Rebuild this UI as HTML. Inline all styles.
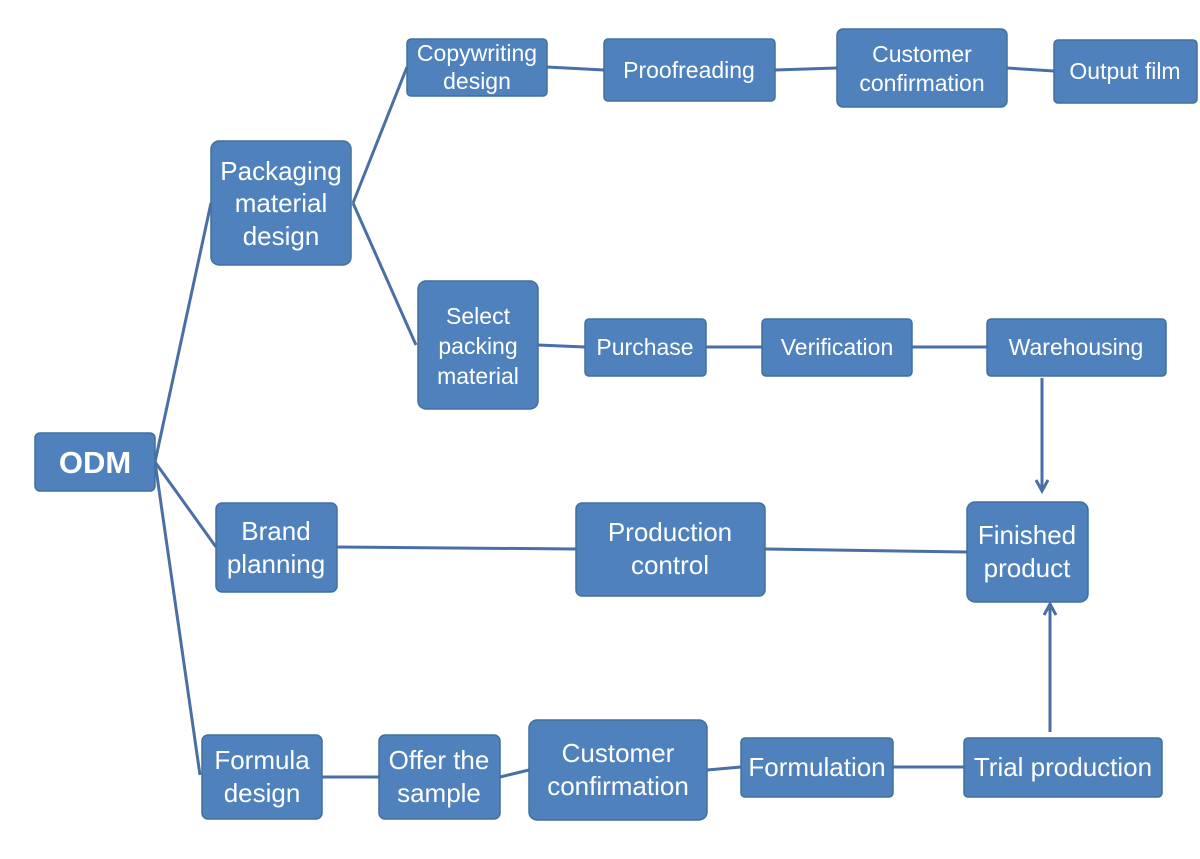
<!DOCTYPE html>
<html><head><meta charset="utf-8"><style>
html,body{margin:0;padding:0;background:#fff;}
svg{display:block;}
text{font-family:"Liberation Sans",sans-serif;fill:#fff;text-anchor:middle;}
rect{fill:#4F81BD;stroke:#41709f;stroke-width:1.5;}
line,polyline{stroke:#4a6fa5;stroke-width:3;fill:none;}
</style></head><body>
<svg width="1200" height="859" viewBox="0 0 1200 859" xmlns="http://www.w3.org/2000/svg">
<defs><marker id="ah" markerWidth="16" markerHeight="16" refX="12" refY="7" orient="auto" markerUnits="userSpaceOnUse"><polyline points="1,1 12,7 1,13" style="stroke:#4a6fa5;stroke-width:3;fill:none"/></marker></defs>
<line x1="155" y1="462" x2="211" y2="203"/>
<line x1="155" y1="462" x2="216" y2="547"/>
<line x1="155" y1="462" x2="200" y2="775"/>
<line x1="353" y1="203" x2="407" y2="67"/>
<line x1="353" y1="203" x2="416" y2="345"/>
<line x1="547" y1="67" x2="604" y2="70"/>
<line x1="775" y1="70" x2="837" y2="68"/>
<line x1="1007" y1="68" x2="1054" y2="71"/>
<line x1="538" y1="345" x2="585" y2="347"/>
<line x1="706" y1="347" x2="762" y2="347"/>
<line x1="912" y1="347" x2="987" y2="347"/>
<line x1="337" y1="547" x2="576" y2="549"/>
<line x1="765" y1="549" x2="967" y2="552"/>
<line x1="322" y1="777" x2="379" y2="777"/>
<line x1="500" y1="777" x2="529" y2="770"/>
<line x1="707" y1="770" x2="741" y2="767"/>
<line x1="893" y1="767" x2="964" y2="767"/>
<line x1="1042" y1="378" x2="1042" y2="491" marker-end="url(#ah)"/>
<line x1="1050" y1="732" x2="1050" y2="604" marker-end="url(#ah)"/>
<rect x="35" y="433" width="120" height="58" rx="5"/><text x="95" y="473" font-size="31" font-weight="bold">ODM</text>
<rect x="211" y="141" width="140" height="124" rx="8"/><text font-size="26"><tspan x="281" y="180">Packaging</tspan><tspan x="281" y="212">material</tspan><tspan x="281" y="245">design</tspan></text>
<rect x="407" y="39" width="140" height="57" rx="4"/><text font-size="23"><tspan x="477" y="61">Copywriting</tspan><tspan x="477" y="89">design</tspan></text>
<rect x="604" y="39" width="171" height="62" rx="4"/><text x="689" y="78" font-size="23">Proofreading</text>
<rect x="837" y="29" width="170" height="78" rx="6"/><text font-size="23"><tspan x="922" y="62">Customer</tspan><tspan x="922" y="91">confirmation</tspan></text>
<rect x="1054" y="40" width="143" height="63" rx="4"/><text x="1125" y="79" font-size="23">Output film</text>
<rect x="418" y="281" width="120" height="128" rx="8"/><text font-size="23"><tspan x="478" y="324">Select</tspan><tspan x="478" y="354">packing</tspan><tspan x="478" y="384">material</tspan></text>
<rect x="585" y="319" width="121" height="57" rx="4"/><text x="645" y="355" font-size="23">Purchase</text>
<rect x="762" y="319" width="150" height="57" rx="4"/><text x="837" y="355" font-size="23">Verification</text>
<rect x="987" y="319" width="179" height="57" rx="4"/><text x="1076" y="355" font-size="23">Warehousing</text>
<rect x="216" y="503" width="121" height="89" rx="6"/><text font-size="26"><tspan x="276" y="540">Brand</tspan><tspan x="276" y="573">planning</tspan></text>
<rect x="576" y="503" width="189" height="93" rx="6"/><text font-size="26"><tspan x="670" y="541">Production</tspan><tspan x="670" y="574">control</tspan></text>
<rect x="967" y="502" width="121" height="100" rx="8"/><text font-size="26"><tspan x="1027" y="544">Finished</tspan><tspan x="1027" y="577">product</tspan></text>
<rect x="202" y="735" width="120" height="84" rx="6"/><text font-size="26"><tspan x="262" y="769">Formula</tspan><tspan x="262" y="802">design</tspan></text>
<rect x="379" y="735" width="121" height="84" rx="6"/><text font-size="26"><tspan x="439" y="769">Offer the</tspan><tspan x="439" y="802">sample</tspan></text>
<rect x="529" y="720" width="178" height="100" rx="8"/><text font-size="26"><tspan x="618" y="762">Customer</tspan><tspan x="618" y="795">confirmation</tspan></text>
<rect x="741" y="738" width="152" height="59" rx="4"/><text x="817" y="776" font-size="26">Formulation</text>
<rect x="964" y="738" width="198" height="59" rx="4"/><text x="1063" y="776" font-size="26">Trial production</text>
</svg>
</body></html>
